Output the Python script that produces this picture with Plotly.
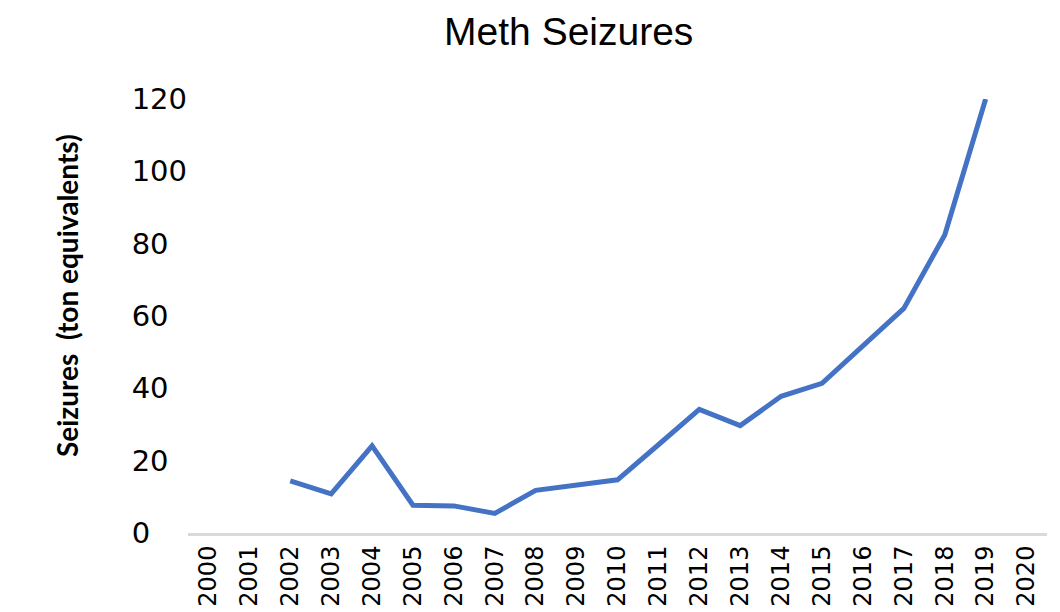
import plotly.graph_objects as go

# anos e apreensoes (toneladas equivalentes)
anos = [str(a) for a in range(2000, 2021)]
apreensoes = [None, None, 14.4, 10.8, 24.1, 7.7, 7.5, 5.4, 11.8, 13.3, 14.7,
              24.4, 34.2, 29.7, 37.8, 41.4, 51.6, 62.1, 82.4, 120.0, None]

y_ticks = [0, 20, 40, 60, 80, 100, 120]
# rotulos alinhados a esquerda com espacos de largura de digito
y_labels = [str(v) + "\u2007" * (3 - len(str(v))) for v in y_ticks]

fig = go.Figure()
fig.add_trace(go.Scatter(
    x=anos,
    y=apreensoes,
    mode="lines",
    line=dict(color="#4472C4", width=5),
    connectgaps=False,
    hoverinfo="x+y",
))

# a pagina tem 8px de margem no body, por isso os margens estao compensados
fig.update_layout(
    width=1060,
    height=612,
    paper_bgcolor="white",
    plot_bgcolor="white",
    showlegend=False,
    margin=dict(l=180, r=21, t=91, b=87),
    title=dict(
        text="Meth Seizures",
        x=0.529,
        xanchor="center",
        y=0.962,
        yanchor="middle",
        font=dict(family="Liberation Sans, Arial", size=39, color="black"),
    ),
)

fig.update_xaxes(
    type="category",
    range=[-0.5, len(anos) - 0.5],
    tickangle=-90,
    showgrid=False,
    showline=True,
    linecolor="#D9D9D9",
    linewidth=3,
    ticks="",
    automargin=False,
    tickfont=dict(family="DejaVu Sans", size=24, color="black"),
)

fig.update_yaxes(
    range=[0, 120],
    tickvals=y_ticks,
    ticktext=y_labels,
    showgrid=False,
    zeroline=False,
    showline=False,
    ticks="",
    automargin=False,
    tickfont=dict(family="DejaVu Sans", size=29, color="black"),
)

# titulo do eixo y como anotacao (fica um pouco acima do centro)
fig.add_annotation(
    text="<b>Seizures  (ton equivalents)</b>",
    xref="paper", yref="paper",
    x=-0.141, y=0.548,
    xanchor="center", yanchor="middle",
    textangle=-90,
    showarrow=False,
    font=dict(family="Lato, Liberation Sans", size=28, color="black"),
)

fig.write_html("out.html")
